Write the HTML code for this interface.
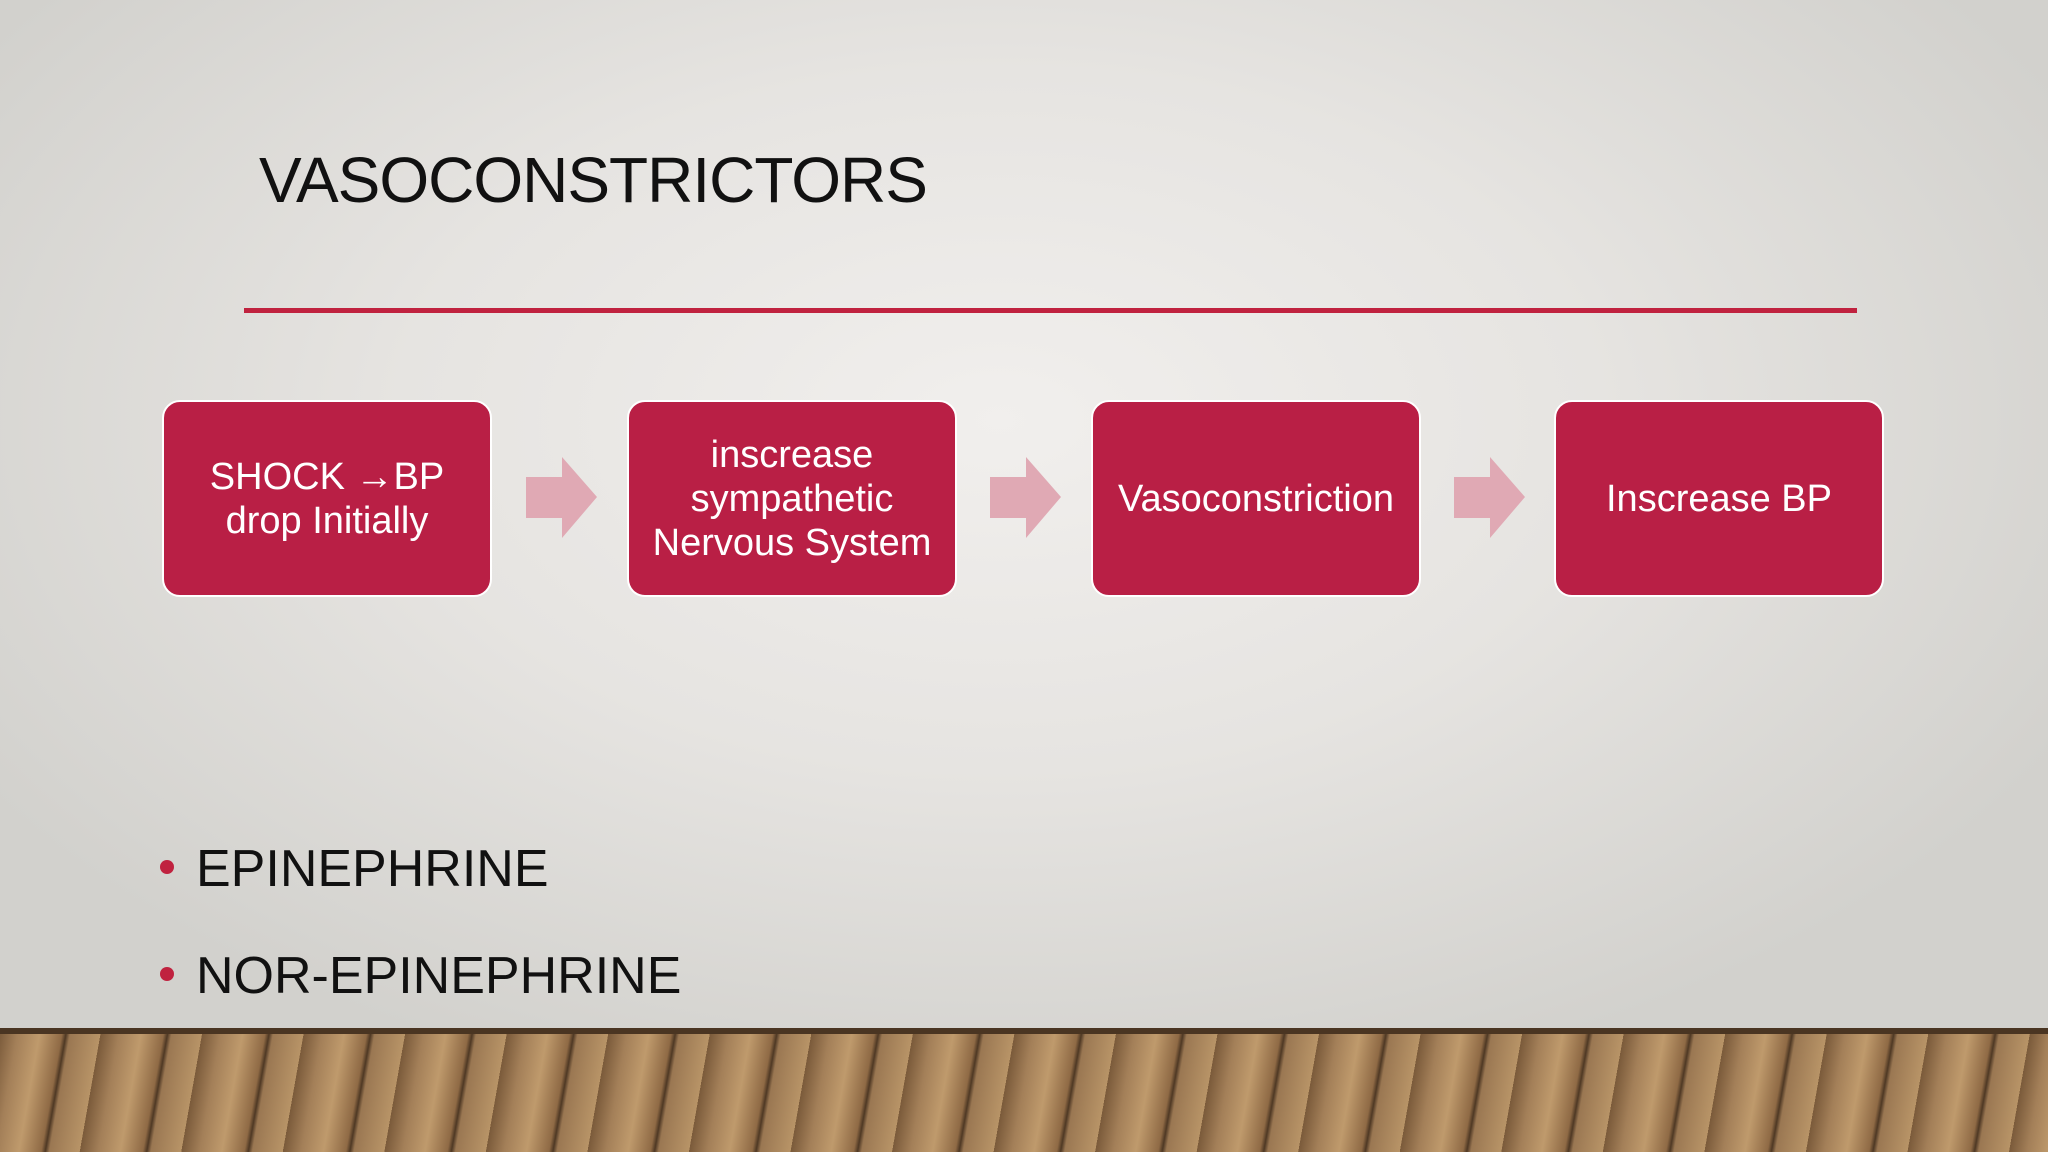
<!DOCTYPE html>
<html><head><meta charset="utf-8"><style>
html,body{margin:0;padding:0}
body{width:2048px;height:1152px;position:relative;overflow:hidden;font-family:"Liberation Sans",sans-serif;
background:radial-gradient(ellipse 1200px 700px at 1000px 420px,#f1efed 0%,#e6e4e1 50%,#d2d1cd 100%);}
.title{position:absolute;left:259px;top:143px;font-size:64px;color:#111;letter-spacing:-1px}
.rule{position:absolute;left:244px;top:308px;width:1613px;height:5px;background:#c0223f}
.box{position:absolute;top:400px;width:326px;height:193px;background:#b91f45;border:2px solid #fff;border-radius:18px;
color:#fff;font-size:38px;line-height:44px;display:flex;align-items:center;justify-content:center;text-align:center}
.arrow{position:absolute;top:457px;width:71px;height:81px}
.b{position:absolute;font-size:52px;color:#111;left:196px}
.dot{position:absolute;left:160px;width:14px;height:14px;border-radius:50%;background:#c0223f}
.floor{position:absolute;left:0;top:1028px;width:2048px;height:124px;
background:repeating-linear-gradient(100deg,#7a5a3a 0px,#a37f58 18px,#bf9a6c 40px,#8f6a45 62px,#4e3824 66px,#9a7752 70px,#b89467 100px);}
.floor:before{content:"";position:absolute;left:0;top:0;width:100%;height:6px;background:#4a3522}
</style></head><body>
<div class="title">VASOCONSTRICTORS</div>
<div class="rule"></div>
<div class="box" style="left:162px">SHOCK →BP<br>drop Initially</div>
<div class="box" style="left:627px">inscrease<br>sympathetic<br>Nervous System</div>
<div class="box" style="left:1091px">Vasoconstriction</div>
<div class="box" style="left:1554px">Inscrease BP</div>
<svg class="arrow" style="left:526px" viewBox="0 0 71 81"><polygon points="0,20 36,20 36,0 71,40 36,81 36,61 0,61" fill="#e0a9b4"/></svg>
<svg class="arrow" style="left:990px" viewBox="0 0 71 81"><polygon points="0,20 36,20 36,0 71,40 36,81 36,61 0,61" fill="#e0a9b4"/></svg>
<svg class="arrow" style="left:1454px" viewBox="0 0 71 81"><polygon points="0,20 36,20 36,0 71,40 36,81 36,61 0,61" fill="#e0a9b4"/></svg>
<div class="dot" style="top:860px"></div><div class="b" style="top:839px">EPINEPHRINE</div>
<div class="dot" style="top:967px"></div><div class="b" style="top:946px">NOR-EPINEPHRINE</div>
<div class="floor"></div>
</body></html>
